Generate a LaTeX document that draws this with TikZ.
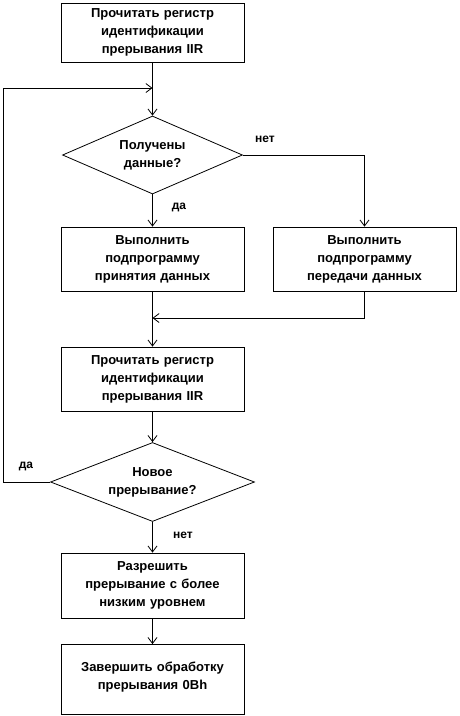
\documentclass[tikz,border=0pt]{standalone}
\usepackage{fontspec}
\setmainfont{Liberation Sans}
\usetikzlibrary{shapes.geometric,arrows.meta}
\tikzset{
  block/.style={draw, rectangle, minimum width=183pt, minimum height=60pt, text width=178pt, align=center, inner sep=2pt},
  decision/.style={draw, diamond, aspect=2.3, inner sep=0pt, align=center},
  arr/.style={-{Straight Barb[length=6pt,width=9pt]}},
  lbl/.style={font=\bfseries\fontsize{12}{14}\selectfont}
}
\begin{document}
\begin{tikzpicture}[x=1pt,y=-1pt,line width=0.8pt,
    every node/.append style={font=\bfseries\fontsize{13}{18}\selectfont}]
  \useasboundingbox (0,0) rectangle (460,716);
  % blocks of the main column
  \node[block, minimum height=59pt] (read1) at (152.5,32.5) {Прочитать регистр\\идентификации\\прерывания IIR};
  \node[decision, minimum width=180pt, minimum height=78pt] (got) at (152.5,155) {Получены\\данные?};
  \node[block, minimum height=64pt] (recv) at (152.5,259) {Выполнить\\подпрограмму\\принятия данных};
  \node[block, minimum height=64pt] (send) at (364.5,259) {Выполнить\\подпрограмму\\передачи данных};
  \node[block, minimum height=64pt] (read2) at (152.5,379) {Прочитать регистр\\идентификации\\прерывания IIR};
  \node[decision, minimum width=204pt, minimum height=79pt] (new) at (152.5,482) {Новое\\прерывание?};
  \node[block, minimum height=65pt] (enable) at (152.5,585.5) {Разрешить\\прерывание с более\\низким уровнем};
  \node[block, minimum height=65pt] (done) at (152.5,679.5) {\strut\\[-6pt]Завершить обработку\\прерывания 0Bh\\\strut};
  % joints
  \coordinate (loopin) at (152.5,88);
  \coordinate (merge) at (152.5,318);
  % connectors
  \draw[arr] (read1.south) -- (got.north);
  \draw[arr] (got.south) -- (recv.north);
  \draw[arr] (got.east) -| (send.north);
  \draw[arr] (send.south) |- (merge);
  \draw[arr] (recv.south) -- (read2.north);
  \draw[arr] (read2.south) -- (new.north);
  \draw[arr] (new.west) -- (3,482) |- (loopin);
  \draw[arr] (new.south) -- (enable.north);
  \draw[arr] (enable.south) -- (done.north);
  % labels
  \node[lbl] (no1) at (265,139) {нет};
  \node[lbl] (yes1) at (179,207) {да};
  \node[lbl] (yes2) at (26,466) {да};
  \node[lbl] (no2) at (183,535) {нет};
\end{tikzpicture}
\end{document}
